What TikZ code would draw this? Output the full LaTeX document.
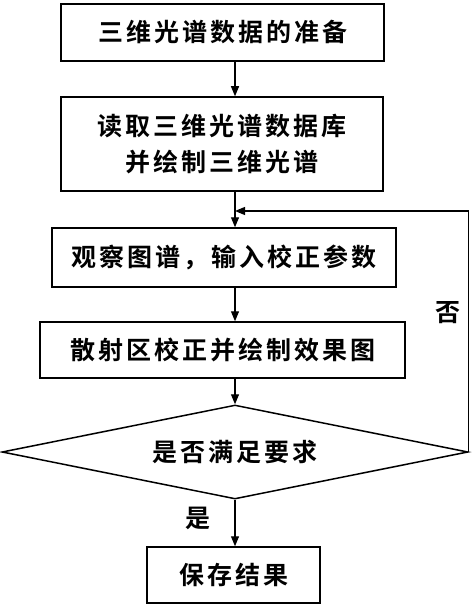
\documentclass[tikz,border=0pt]{standalone}
\usepackage{fontspec}
\newfontfamily\cjk[LetterSpace=12,BoldFont={Noto Sans CJK SC Bold}]{Noto Sans CJK SC}
\usetikzlibrary{shapes.geometric,arrows.meta}
\begin{document}
\begin{tikzpicture}[x=1pt,y=-1pt,
  every node/.style={font=\cjk\bfseries\fontsize{25}{36}\selectfont},
  stepbox/.style={draw,line width=1.5pt,rectangle,inner sep=0pt,align=center},
  decide/.style={draw,line width=1.5pt,diamond,inner sep=0pt,minimum width=466pt,minimum height=94pt,shape aspect=4.96},
  arr/.style={line width=1.2pt,-{Triangle[length=10pt,width=8pt]}},
  lbl/.style={inner sep=0pt}]
\useasboundingbox (0,0) rectangle (474,607);
\node[stepbox,minimum width=323pt,minimum height=57pt] (b1) at (222.5,32.5) {三维光谱数据的准备};
\node[stepbox,minimum width=322pt,minimum height=94pt] (b2) at (222,144) {读取三维光谱数据库\\并绘制三维光谱};
\node[stepbox,minimum width=344pt,minimum height=59pt] (b3) at (224,257.5) {观察图谱，输入校正参数};
\node[stepbox,minimum width=365pt,minimum height=56pt] (b4) at (222.5,350) {散射区校正并绘制效果图};
\node[decide] (d) at (235,452) {是否满足要求};
\node[stepbox,minimum width=173pt,minimum height=56pt] (b5) at (233.5,575) {保存结果};
\node[lbl] (no) at (448,313) {否};
\node[lbl] (yes) at (198,518) {是};
\coordinate (fb) at (235,211);
\draw[arr] (b1.south -| d.north) -- (b2.north -| d.north);
\draw[arr] (b2.south -| d.north) -- (b3.north -| d.north);
\draw[arr] (b3.south -| d.north) -- (b4.north -| d.north);
\draw[arr] (b4.south -| d.north) -- (d.north);
\draw[arr] (d.south) -- (b5.north -| d.south);
\draw[arr] (d.east) -- (d.east |- fb) -- (fb);
\end{tikzpicture}
\end{document}
